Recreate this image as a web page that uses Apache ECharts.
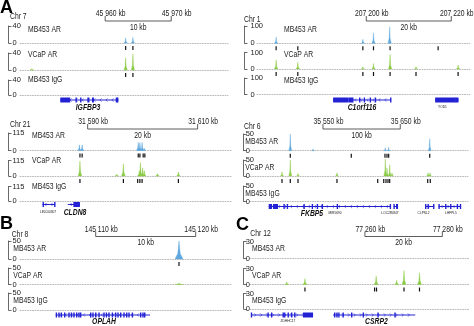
<!DOCTYPE html>
<html>
<head>
<meta charset="utf-8">
<script src="https://cdn.jsdelivr.net/npm/echarts@6/dist/echarts.min.js"></script>
<style>
html, body { margin: 0; padding: 0; background: #fff; }
#chart { width: 474px; height: 326px; }
</style>
</head>
<body>
<div id="chart"></div>
<script>
// values, positions in kb
const trackNames = ['MB453 AR', 'VCaP AR', 'MB453 IgG'];

// A - Chr 7
const chr7Range = [45947.1, 45978.6];
const chr7Scale = [45960, 45970];
const chr7Max = 40;
const chr7Mb453Ar = [[45963.1, 12], [45964.2, 13]];
const chr7VcapAr = [[45948.9, 3], [45963.1, 29], [45964.2, 37]];
const chr7IgG = [];
const chr7Mb453Calls = [45963.1, 45964.2];
const chr7VcapCalls = [45963.1, 45964.2];
const chr7Genes = [
    { name: 'IGFBP3', span: [45953.2, 45962.0], strand: '-', label: 45957.4,
      exons: [[45953.2, 45954.7], [45955.5, 45955.7], [45956.2, 45956.4], [45957.3, 45957.6], [45958.0, 45958.3], [45961.6, 45962.0]] }
];

// A - Chr 1
const chr1Range = [207174.3, 207224.4];
const chr1Scale = [207200, 207220];
const chr1Max = 100;
const chr1Mb453Ar = [[207178.8, 35], [207199.2, 23], [207201.7, 60], [207205.5, 95]];
const chr1VcapAr = [[207178.8, 55], [207183.9, 40], [207199.2, 14], [207201.7, 34], [207205.6, 88], [207211.7, 14], [207221.6, 24]];
const chr1IgG = [];
const chr1Mb453Calls = [207178.8, 207183.9, 207199.2, 207201.7, 207205.6, 207216.9];
const chr1VcapCalls = [207178.8, 207183.9, 207199.2, 207201.7, 207205.6, 207211.7, 207221.6];
const chr1Genes = [
    { name: 'C1orf116', span: [207192.2, 207205.8], strand: '-', label: 207199.0,
      exons: [[207192.2, 207195.8], [207195.8, 207197.0], [207198.3, 207198.5], [207199.4, 207199.6], [207200.8, 207201.0], [207202.0, 207202.2], [207205.6, 207205.8]] },
    { name: 'YOD1', span: [207216.2, 207221.7], strand: '-', label: 207217.9,
      exons: [[207216.2, 207221.0], [207220.9, 207221.7]] }
];

// A - Chr 21
const chr21Range = [31577.7, 31616.25];
const chr21Scale = [31590, 31610];
const chr21Max = 115;
const chr21Mb453Ar = [[31588.5, 37], [31589.0, 37], [31599.2, 53], [31599.5, 53], [31599.9, 53], [31600.3, 15]];
const chr21VcapAr = [[31588.6, 110], [31595.3, 12], [31596.5, 90], [31599.4, 40], [31599.6, 100], [31600.0, 60], [31600.3, 40], [31602.7, 18], [31606.5, 30]];
const chr21IgG = [];
const chr21Mb453Calls = [31588.6, 31589.0, 31599.2, 31599.5, 31600.1, 31600.4];
const chr21VcapCalls = [31588.6, 31596.5, 31599.1, 31599.5, 31599.9, 31606.5];
const chr21Genes = [
    { name: 'LINC00307', span: [31581.8, 31584.1], strand: '+', label: 31582.8,
      exons: [[31581.8, 31582.0], [31583.9, 31584.1]] },
    { name: 'CLDN8', span: [31586.4, 31588.6], strand: '+', label: 31587.7,
      exons: [[31587.4, 31588.6]] }
];

// A - Chr 6
const chr6Range = [35455.6, 35737.6];
const chr6Scale = [35550, 35650];
const chr6Max = 50;
const chr6Mb453Ar = [[35507.7, 50], [35537.1, 5], [35630.6, 9], [35635.0, 10], [35688.1, 36]];
const chr6VcapAr = [[35497.0, 13], [35507.7, 50], [35517.7, 8], [35568.1, 10], [35630.6, 53], [35632.8, 25], [35636.3, 35], [35639.3, 10], [35685.9, 10], [35688.5, 10]];
const chr6IgG = [];
const chr6Mb453Calls = [35507.7, 35586.6, 35630.2, 35632.8, 35635.0, 35688.1];
const chr6VcapCalls = [35497.0, 35507.7, 35517.7, 35568.1, 35620.8, 35628.6, 35631.5, 35634.1, 35636.3, 35685.5, 35688.8];
const chr6Genes = [
    { name: 'FKBP5', span: [35479.8, 35637.1], strand: '-', label: 35535.8,
      exons: [[35479.8, 35484.1], [35485.4, 35491.8], [35498.8, 35499.6], [35503.1, 35503.9], [35524.7, 35525.5], [35535.4, 35536.2], [35541.9, 35542.7], [35548.3, 35549.1], [35567.7, 35568.5], [35636.3, 35637.1]] },
    { name: 'MIR5690', span: [35565.4, 35565.8], strand: '+', label: 35565.6, exons: [] },
    { name: 'LOC285847', span: [35641.5, 35647.1], strand: '+', label: 35636.7,
      exons: [[35641.1, 35641.9], [35644.5, 35647.1]] },
    { name: 'CLPSL2', span: [35682.4, 35693.2], strand: '+', label: 35680.1,
      exons: [[35682.0, 35683.0], [35685.2, 35686.2], [35692.4, 35693.6]] },
    { name: 'LHFPL5', span: [35699.7, 35727.7], strand: '+', label: 35715.6,
      exons: [[35699.3, 35700.3], [35707.9, 35708.9], [35714.4, 35715.4], [35723.0, 35724.0], [35727.0, 35728.0]] }
];

// B - Chr 8
const chr8Range = [145102.43, 145123.63];
const chr8Scale = [145110, 145120];
const chr8Max = 50;
const chr8Mb453Ar = [[145118.33, 50]];
const chr8VcapAr = [[145118.33, 4]];
const chr8IgG = [];
const chr8Mb453Calls = [145118.33];
const chr8VcapCalls = [];
const chr8Genes = [
    { name: 'OPLAH', span: [145106.0, 145115.43], strand: '-', label: 145110.83,
      exons: [[145106.0, 145106.1], [145106.26, 145106.36], [145106.5, 145106.6], [145106.83, 145106.93], [145107.26, 145107.36],
              [145107.5, 145107.6], [145107.76, 145107.86], [145108.03, 145108.13], [145108.26, 145108.36], [145108.43, 145108.53],
              [145109.43, 145109.53], [145109.66, 145109.76], [145109.93, 145110.03], [145110.26, 145110.36], [145110.76, 145110.86],
              [145111.0, 145111.1], [145111.26, 145111.36], [145111.6, 145111.7], [145111.93, 145112.03], [145112.16, 145112.26],
              [145112.43, 145112.53], [145112.76, 145112.86], [145113.03, 145113.13], [145113.26, 145113.36], [145113.6, 145113.7],
              [145114.43, 145114.53], [145114.66, 145114.76], [145114.83, 145114.93]] }
];

// C - Chr 12
const chr12Range = [77230.3, 77287.15];
const chr12Scale = [77260, 77280];
const chr12Max = 30;
const chr12Mb453Ar = [];
const chr12VcapAr = [[77239.8, 5], [77244.5, 11], [77262.9, 16], [77268.2, 8], [77270.1, 26], [77274.1, 22]];
const chr12IgG = [];
const chr12Mb453Calls = [];
const chr12VcapCalls = [77244.5, 77262.5, 77263.0, 77270.1, 77274.1];
const chr12Genes = [
    { name: 'ZDHHC17', span: [77230.66, 77246.58], strand: '+', label: 77240.12,
      exons: [[77230.5, 77230.8], [77234.8, 77235.1], [77235.7, 77236.0], [77238.7, 77239.0], [77239.1, 77239.4],
              [77240.0, 77240.3], [77240.9, 77241.2], [77241.7, 77242.0], [77244.0, 77246.6]] },
    { name: 'CSRP2', span: [77251.75, 77273.0], strand: '+', label: 77262.96,
      exons: [[77252.0, 77252.3], [77252.6, 77252.9], [77253.1, 77253.4], [77254.2, 77254.5], [77256.4, 77256.7],
              [77259.4, 77259.7], [77263.2, 77263.5], [77267.6, 77267.9]] }
];

const font = "'Liberation Sans', Arial, sans-serif";
const narrow = 0.8;   // the figure uses a condensed face, squeeze the texts
const peakColors = ['#5fa8df', '#8acb45', '#999'];
const geneColor = '#2222d4';

const panels = [
    { letter: 'A', letterPos: [0, -1], chr: 'Chr 7', chrPos: [10, 17], left: 20, right: 228, axisX: 8.5, labelMargin: 4,
      tracks: [[26, 43], [53, 70], [80, 95]], nameX: 28, nameY: [29.3, 54.3, 80], scaleY: 21, geneY: 100, geneLabelY: 108,
      range: chr7Range, scale: chr7Scale, max: chr7Max, data: [chr7Mb453Ar, chr7VcapAr, chr7IgG],
      calls: [chr7Mb453Calls, chr7VcapCalls, []], genes: chr7Genes, mainGene: 'IGFBP3', peakW: 1.6 },
    { chr: 'Chr 1', chrPos: [244, 19.5], left: 257, right: 470, axisX: 244.5, labelMargin: 6,
      tracks: [[26, 43.3], [52.5, 69], [78, 94.5]], nameX: 284, nameY: [29.3, 55, 80.7], scaleY: 21, geneY: 100, geneLabelY: 107.5,
      range: chr1Range, scale: chr1Scale, max: chr1Max, data: [chr1Mb453Ar, chr1VcapAr, chr1IgG],
      calls: [chr1Mb453Calls, chr1VcapCalls, []], genes: chr1Genes, mainGene: 'C1orf116', peakW: 1.6 },
    { chr: 'Chr 21', chrPos: [10, 125], left: 20, right: 232, axisX: 8.5, labelMargin: 4,
      tracks: [[133, 150.5], [160.5, 176], [186.5, 201]], nameX: 32, nameY: [136, 161, 186.7], scaleY: 129, geneY: 204.5, geneLabelY: 213,
      range: chr21Range, scale: chr21Scale, max: chr21Max, data: [chr21Mb453Ar, chr21VcapAr, chr21IgG],
      calls: [chr21Mb453Calls, chr21VcapCalls, []], genes: chr21Genes, mainGene: 'CLDN8', peakW: 1.8 },
    { chr: 'Chr 6', chrPos: [244, 126.7], left: 250, right: 468, axisX: 243.7, labelMargin: 2,
      tracks: [[134, 150.7], [160, 176], [186, 201.5]], nameX: 245.3, nameY: [141.7, 167.3, 193.3], scaleY: 129, geneY: 206.5, geneLabelY: 213.5,
      range: chr6Range, scale: chr6Scale, max: chr6Max, data: [chr6Mb453Ar, chr6VcapAr, chr6IgG],
      calls: [chr6Mb453Calls, chr6VcapCalls, []], genes: chr6Genes, mainGene: 'FKBP5', peakW: 1.4 },
    { letter: 'B', letterPos: [0, 215], chr: 'Chr 8', chrPos: [11.7, 235], left: 20, right: 232, axisX: 8.5, labelMargin: 4,
      tracks: [[241, 259], [268, 284.5], [293, 310]], nameX: 13.3, nameY: [249, 275.3, 301], scaleY: 236.5, geneY: 315, geneLabelY: 322,
      range: chr8Range, scale: chr8Scale, max: chr8Max, data: [chr8Mb453Ar, chr8VcapAr, chr8IgG],
      calls: [chr8Mb453Calls, chr8VcapCalls, []], genes: chr8Genes, mainGene: 'OPLAH', peakW: 4 },
    { letter: 'C', letterPos: [236, 216], chr: 'Chr 12', chrPos: [250.3, 233.3], left: 250, right: 470, axisX: 243.7, labelMargin: 2,
      tracks: [[241.5, 258.5], [268.5, 284.5], [293.5, 309]], nameX: 252, nameY: [249, 275.7, 301], scaleY: 236.5, geneY: 315, geneLabelY: 322,
      range: chr12Range, scale: chr12Scale, max: chr12Max, data: [chr12Mb453Ar, chr12VcapAr, chr12IgG],
      calls: [chr12Mb453Calls, chr12VcapCalls, []], genes: chr12Genes, mainGene: 'CSRP2', peakW: 2 }
];

function kbText(v) {
    return String(v).replace(/\B(?=(\d{3})+(?!\d))/g, ' ') + ' kb';
}

// spike shaped peak
function peakItem(hw, color) {
    return function (params, api) {
        const base = api.coord([api.value(0), 0]);
        const top = api.coord([api.value(0), api.value(1)]);
        const x = base[0], y = base[1], h = y - top[1];
        return {
            type: 'polygon',
            shape: { points: [[x - hw, y], [x - hw * 0.3, y - h * 0.3], [x, top[1]], [x + hw * 0.3, y - h * 0.3], [x + hw, y]] },
            style: { fill: color, stroke: color, lineWidth: 0.4 }
        };
    };
}

function callItem(params, api) {
    const p = api.coord([api.value(0), 0]);
    return { type: 'rect', shape: { x: p[0] - 0.6, y: p[1] + 3, width: 1.2, height: 4 }, style: { fill: '#111' } };
}

function label(x, y, text, size, align, extra) {
    return {
        type: 'text', x: x, y: y, scaleX: narrow, silent: true,
        style: { text: text, fill: '#222', font: (extra || '') + size + 'px ' + font, align: align, verticalAlign: 'middle' }
    };
}

function scaleItem(y) {
    return function (params, api) {
        const a = api.coord([api.value(0), 0])[0];
        const b = api.coord([api.value(1), 0])[0];
        return {
            type: 'group',
            children: [
                { type: 'polyline', shape: { points: [[a, y - 5], [a, y], [b, y], [b, y - 5]] }, style: { stroke: '#333', lineWidth: 0.8, fill: null } },
                label(a + 5.5, y - 7, kbText(api.value(0)), 8.5, 'center'),
                label(b + 5.5, y - 7, kbText(api.value(1)), 8.5, 'center'),
                label((a + b) / 2, y + 6.5, (api.value(1) - api.value(0)) + ' kb', 8.5, 'center')
            ]
        };
    };
}

function geneItem(p) {
    return function (params, api) {
        const g = p.genes[params.dataIndex];
        const y = p.geneY;
        const x0 = api.coord([g.span[0], 0])[0];
        const x1 = api.coord([g.span[1], 0])[0];
        const children = [];
        if (x1 - x0 > 1) {
            children.push({ type: 'line', shape: { x1: x0, y1: y, x2: x1, y2: y }, style: { stroke: geneColor, lineWidth: 1 } });
            const d = g.strand === '-' ? -1 : 1;
            for (let cx = x0 + 4; cx < x1 - 2; cx += 6) {
                children.push({ type: 'polyline', shape: { points: [[cx - d * 1.2, y - 1.6], [cx + d * 0.4, y], [cx - d * 1.2, y + 1.6]] },
                    style: { stroke: geneColor, lineWidth: 0.6, fill: null } });
            }
        }
        g.exons.forEach(function (e) {
            const ea = api.coord([e[0], 0])[0];
            const eb = api.coord([e[1], 0])[0];
            const w = Math.max(eb - ea, 1.4);
            children.push({ type: 'rect', shape: { x: ea, y: y - 2.5, width: w, height: 5 }, style: { fill: geneColor } });
        });
        const main = g.name === p.mainGene;
        const lx = api.coord([g.label, 0])[0];
        const t = main ? label(lx, p.geneLabelY, g.name, 8.5, 'center', 'italic bold ')
                       : label(lx, p.geneLabelY - 1, g.name, 4, 'center');
        t.style.fill = '#111';
        children.push(t);
        return { type: 'group', children: children };
    };
}

const grid = [], xAxis = [], yAxis = [], series = [], graphic = [];
panels.forEach(function (p, pi) {
    p.tracks.forEach(function (t, ti) {
        const gi = pi * 3 + ti;
        grid.push({ left: p.left, top: t[0], width: p.right - p.left, height: t[1] - t[0], outerBoundsMode: 'none', containLabel: false });
        xAxis.push({
            gridIndex: gi, type: 'value', min: p.range[0], max: p.range[1],
            axisLine: { show: true, onZero: false, lineStyle: { color: '#a8a8a8', width: 0.8, type: [1, 1.5] } },
            axisTick: { show: false }, axisLabel: { show: false }, splitLine: { show: false }
        });
        yAxis.push({
            gridIndex: gi, type: 'value', min: 0, max: p.max, interval: p.max, offset: p.left - p.axisX,
            axisLine: { show: true, lineStyle: { color: '#444', width: 0.8 } },
            axisTick: { show: true, inside: true, length: 3, lineStyle: { color: '#444', width: 0.8 } },
            axisLabel: { inside: true, margin: p.labelMargin, color: '#222', fontSize: 7.5, fontFamily: font },
            splitLine: { show: false }
        });
        series.push({ type: 'custom', xAxisIndex: gi, yAxisIndex: gi, clip: false, silent: true,
            data: p.data[ti], encode: { x: 0, y: 1 }, renderItem: peakItem(p.peakW, peakColors[ti]) });
        if (p.calls[ti].length) {
            series.push({ type: 'custom', xAxisIndex: gi, yAxisIndex: gi, clip: false, silent: true,
                data: p.calls[ti].map(function (v) { return [v, 0]; }), encode: { x: 0, y: 1 }, renderItem: callItem });
        }
        graphic.push(label(p.nameX, p.nameY[ti], trackNames[ti], 8.5, 'left'));
    });
    series.push({ type: 'custom', xAxisIndex: pi * 3, yAxisIndex: pi * 3, clip: false, silent: true,
        data: [[p.scale[0], p.scale[1], 0]], encode: { x: [0, 1], y: 2 }, renderItem: scaleItem(p.scaleY) });
    series.push({ type: 'custom', xAxisIndex: pi * 3 + 2, yAxisIndex: pi * 3 + 2, clip: false, silent: true,
        data: p.genes.map(function (g) { return [g.span[0], g.span[1], 0]; }), encode: { x: [0, 1], y: 2 }, renderItem: geneItem(p) });
    graphic.push(label(p.chrPos[0], p.chrPos[1], p.chr, 8.5, 'left'));
    if (p.letter) {
        graphic.push({ type: 'text', x: p.letterPos[0], y: p.letterPos[1], silent: true,
            style: { text: p.letter, fill: '#000', font: 'bold 18px ' + font, align: 'left', verticalAlign: 'top' } });
    }
});

const chart = echarts.init(document.getElementById('chart'));
chart.setOption({
    animation: false,
    backgroundColor: '#fff',
    grid: grid,
    xAxis: xAxis,
    yAxis: yAxis,
    series: series,
    graphic: graphic
});
</script>
</body>
</html>
